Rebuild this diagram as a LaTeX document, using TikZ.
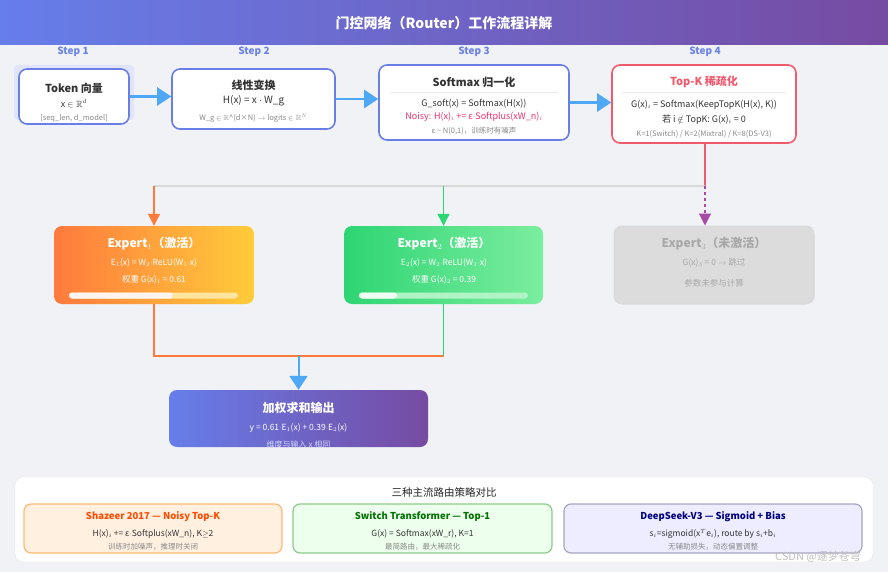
\documentclass[tikz,border=0pt]{standalone}
\usepackage{amssymb}
\usepackage{fontspec}
\setmainfont{Noto Sans CJK SC}
\usetikzlibrary{positioning}
\usetikzlibrary{arrows.meta}
\definecolor{bgcolor}{HTML}{F0F2F6}
\definecolor{blueA}{HTML}{667EEA}
\definecolor{purpA}{HTML}{764BA2}
\definecolor{stepcolor}{HTML}{6A82E8}
\definecolor{boxline}{HTML}{6A7EE8}
\definecolor{topkline}{HTML}{F05A6E}
\definecolor{arrowblue}{HTML}{4FA8F5}
\definecolor{noisyred}{HTML}{F0306A}
\definecolor{graytext}{HTML}{8A8A8A}
\definecolor{orangeA}{HTML}{FF7A3D}
\definecolor{orangeB}{HTML}{FFCC3A}
\definecolor{greenA}{HTML}{2ED573}
\definecolor{greenB}{HTML}{7BED9F}
\definecolor{offgray}{HTML}{DCDCDC}
\definecolor{offtext}{HTML}{A8A8A8}
\newcommand{\md}{$\cdot$}
\tikzset{
	stepbox/.style={draw=boxline, line width=1.6pt, fill=white, rounded corners=8pt, inner sep=0pt},
	steplabel/.style={text=stepcolor, font=\bfseries\fontsize{10}{12}\selectfont},
	btitle/.style={font=\bfseries\fontsize{11}{13}\selectfont, text=black!80},
	btext/.style={font=\fontsize{9}{11}\selectfont, text=black!80},
	bsmall/.style={font=\fontsize{7.5}{9}\selectfont, text=graytext},
	bigarrow/.style={-{Triangle[length=14pt,width=18pt]}, line width=2.5pt, draw=arrowblue},
	expert/.style={rounded corners=8pt, inner sep=0pt, minimum width=200pt, minimum height=78pt},
	etitle/.style={font=\bfseries\fontsize{12}{14}\selectfont, text=white},
	etext/.style={font=\fontsize{8.5}{10}\selectfont, text=white},
	cmpbox/.style={rounded corners=7pt, line width=1.2pt, inner sep=0pt, minimum height=49pt},
	cmptitle/.style={font=\bfseries\fontsize{9.5}{11}\selectfont},
	cmptext/.style={font=\fontsize{8.5}{10}\selectfont, text=black!80},
}
\begin{document}
\begin{tikzpicture}[x=1pt, y=-1pt]
	\fill[bgcolor] (0,0) rectangle (888,572);
	\useasboundingbox (0,0) rectangle (888,572);

	%
	% Title bar
	\shade[left color=blueA, right color=purpA] (0,0) rectangle (888,45);
	\node[text=white, font=\bfseries\fontsize{14}{16}\selectfont] (title) at (444,23) {门控网络（Router）工作流程详解};

	%
	% Steps
	\node[steplabel] (s1) at (73,52) {Step 1};
	\node[steplabel] (s2) at (254,52) {Step 2};
	\node[steplabel] (s3) at (474,52) {Step 3};
	\node[steplabel] (s4) at (705,52) {Step 4};

	\fill[blueA!20, rounded corners=4pt] (14,65) rectangle (134,120);
	\node[stepbox, minimum width=110pt, minimum height=55pt] (tok) at (74,96.5) {};
	\node[btitle] at (74,88) {Token 向量};
	\node[btext] at (74,104) {x $\in\mathbb{R}^{d}$};
	\node[bsmall] at (74,118) {[seq\_len, d\_model]};

	\node[stepbox, minimum width=163pt, minimum height=60pt] (lin) at (253.5,99) {};
	\node[btitle] at (253.5,85) {线性变换};
	\node[font=\fontsize{10}{12}\selectfont, text=black!80] at (253.5,101) {H(x) = x \md{} W\_g};
	\node[bsmall] at (253.5,118) {W\_g $\in\mathbb{R}$\textasciicircum(d×N) $\rightarrow$ logits $\in\mathbb{R}^{N}$};

	\node[stepbox, minimum width=190pt, minimum height=75pt] (soft) at (474,102.5) {};
	\node[btitle] at (474,82) {Softmax 归一化};
	\draw[black!8, line width=1pt] (390,93) -- (558,93);
	\node[btext] at (474,104) {G\_soft(x) = Softmax(H(x))};
	\node[btext, text=noisyred] at (474,117) {Noisy: H(x)$_i$ += ε\md{}Softplus(xW\_n)$_i$};
	\node[bsmall] at (474,131) {ε \textasciitilde{} N(0,1)，训练时有噪声};

	\node[stepbox, draw=topkline, minimum width=184pt, minimum height=78pt] (topk) at (704,104) {};
	\node[btitle, text=topkline] at (704,82) {Top-K 稀疏化};
	\draw[black!8, line width=1pt] (622,93) -- (786,93);
	\node[btext] at (704,105) {G(x)$_i$ = Softmax(KeepTopK(H(x), K))};
	\node[btext] at (704,120) {若 i $\notin$ TopK: G(x)$_i$ = 0};
	\node[bsmall] at (704,134) {K=1(Switch) / K=2(Mixtral) / K=8(DS-V3)};

	\draw[bigarrow] (tok.east) -- (lin.west |- tok.east);
	\draw[bigarrow] (lin.east) -- (soft.west |- lin.east);
	\draw[bigarrow] (soft.east) -- (topk.west |- soft.east);

	%
	% Experts
	\shade[expert, left color=orangeA, right color=orangeB] (54,226) rectangle (254,304);
	\node[expert] (e1) at (154,265) {};
	\node[etitle] at (154,244) {Expert$_1$（激活）};
	\node[etext] at (154,263) {E$_1$(x) = W$_2$\md{}ReLU(W$_1$\md{}x)};
	\node[etext] at (154,280) {权重 G(x)$_1$ = 0.61};
	\fill[white!50!orangeB, rounded corners=3pt] (69,292.5) rectangle (238,298.5);
	\fill[white!92!orangeA, rounded corners=3pt] (69,292.5) rectangle (173,298.5);

	\shade[expert, left color=greenA, right color=greenB] (344,226) rectangle (543,304);
	\node[expert] (e2) at (443.5,265) {};
	\node[etitle] at (444,244) {Expert$_2$（激活）};
	\node[etext] at (444,263) {E$_2$(x) = W$_2$\md{}ReLU(W$_1$\md{}x)};
	\node[etext] at (444,280) {权重 G(x)$_2$ = 0.39};
	\fill[white!40!greenB, rounded corners=3pt] (359,292.5) rectangle (528,298.5);
	\fill[white!92!greenA, rounded corners=3pt] (359,292.5) rectangle (397,298.5);

	\node[expert, fill=offgray, draw=black!15, line width=1pt] (e3) at (714,265) {};
	\node[etitle, text=offtext] at (714,244) {Expert$_3$（未激活）};
	\node[etext, text=offtext] at (714,263) {G(x)$_3$ = 0 $\rightarrow$ 跳过};
	\node[etext, text=offtext] at (714,283) {参数未参与计算};

	%
	% Routing
	\coordinate (split) at (705,186);
	\draw[topkline, line width=1.2pt] (topk.south -| split) -- (split);
	\draw[black!15, line width=1.2pt] (e1.north |- split) -- (split);
	\draw[orangeA, line width=1.2pt, -{Triangle[length=12pt,width=12pt]}] (e1.north |- split) -- (e1.north);
	\draw[greenA, line width=1.2pt, -{Triangle[length=12pt,width=12pt]}] (e2.north |- split) -- (e2.north);
	\draw[violet!70, line width=1.2pt, dashed, -{Triangle[length=12pt,width=12pt]}] (split) -- (split |- e3.north);

	%
	% Output
	\shade[left color=blueA, right color=purpA, rounded corners=8pt] (169,390) rectangle (428,447);
	\node[minimum width=259pt, minimum height=57pt, inner sep=0pt] (out) at (298.5,418.5) {};
	\node[etitle] at (298.5,408) {加权求和输出};
	\node[etext] at (298.5,428) {y = 0.61\md{}E$_1$(x) + 0.39\md{}E$_2$(x)};
	\node[font=\fontsize{8}{9}\selectfont, text=white!70!blueA] at (298.5,444) {维度与输入 x 相同};

	\coordinate (merge) at (298.5,356);
	\draw[orangeA, line width=1.2pt] (e1.south) -- (e1.south |- merge) -- (e2.south |- merge);
	\draw[greenA, line width=1.2pt] (e2.south) -- (e2.south |- merge);
	\draw[bigarrow, line width=2pt] (merge) -- (out.north);

	%
	% Comparison panel
	\fill[white, draw=black!10, rounded corners=8pt] (15,477) rectangle (873,562);
	\node[font=\fontsize{10.5}{12}\selectfont, text=black!85] (cmp) at (444,492) {三种主流路由策略对比};

	\node[cmpbox, fill=orange!12, draw=orange!55, minimum width=258pt] (shz) at (153,528.5) {};
	\node[cmptitle, text=orange!60!red] at (153,517) {Shazeer 2017 — Noisy Top-K};
	\node[cmptext] at (153,534) {H(x)$_i$ += ε\md{}Softplus(xW\_n), K$\geq$2};
	\node[bsmall] at (153,547) {训练时加噪声，推理时关闭};

	\node[cmpbox, fill=green!7, draw=green!55!black!45, minimum width=259pt] (swt) at (422.5,528.5) {};
	\node[cmptitle, text=green!45!black] at (422.5,517) {Switch Transformer — Top-1};
	\node[cmptext] at (422.5,534) {G(x) = Softmax(xW\_r), K=1};
	\node[bsmall] at (422.5,547) {最简路由，最大稀疏化};

	\node[cmpbox, fill=blue!7, draw=blue!35!black!35, minimum width=298pt] (dsk) at (713,528.5) {};
	\node[cmptitle, text=blue!50!black] at (713,517) {DeepSeek-V3 — Sigmoid + Bias};
	\node[cmptext] at (713,534) {s$_i$=sigmoid(x$^{T}$e$_i$), route by s$_i$+b$_i$};
	\node[bsmall] at (713,547) {无辅助损失，动态偏置调整};

	\node[font=\fontsize{11}{13}\selectfont, text=black!25] (wm) at (818,557) {CSDN @逐梦苍穹};
\end{tikzpicture}
\end{document}
